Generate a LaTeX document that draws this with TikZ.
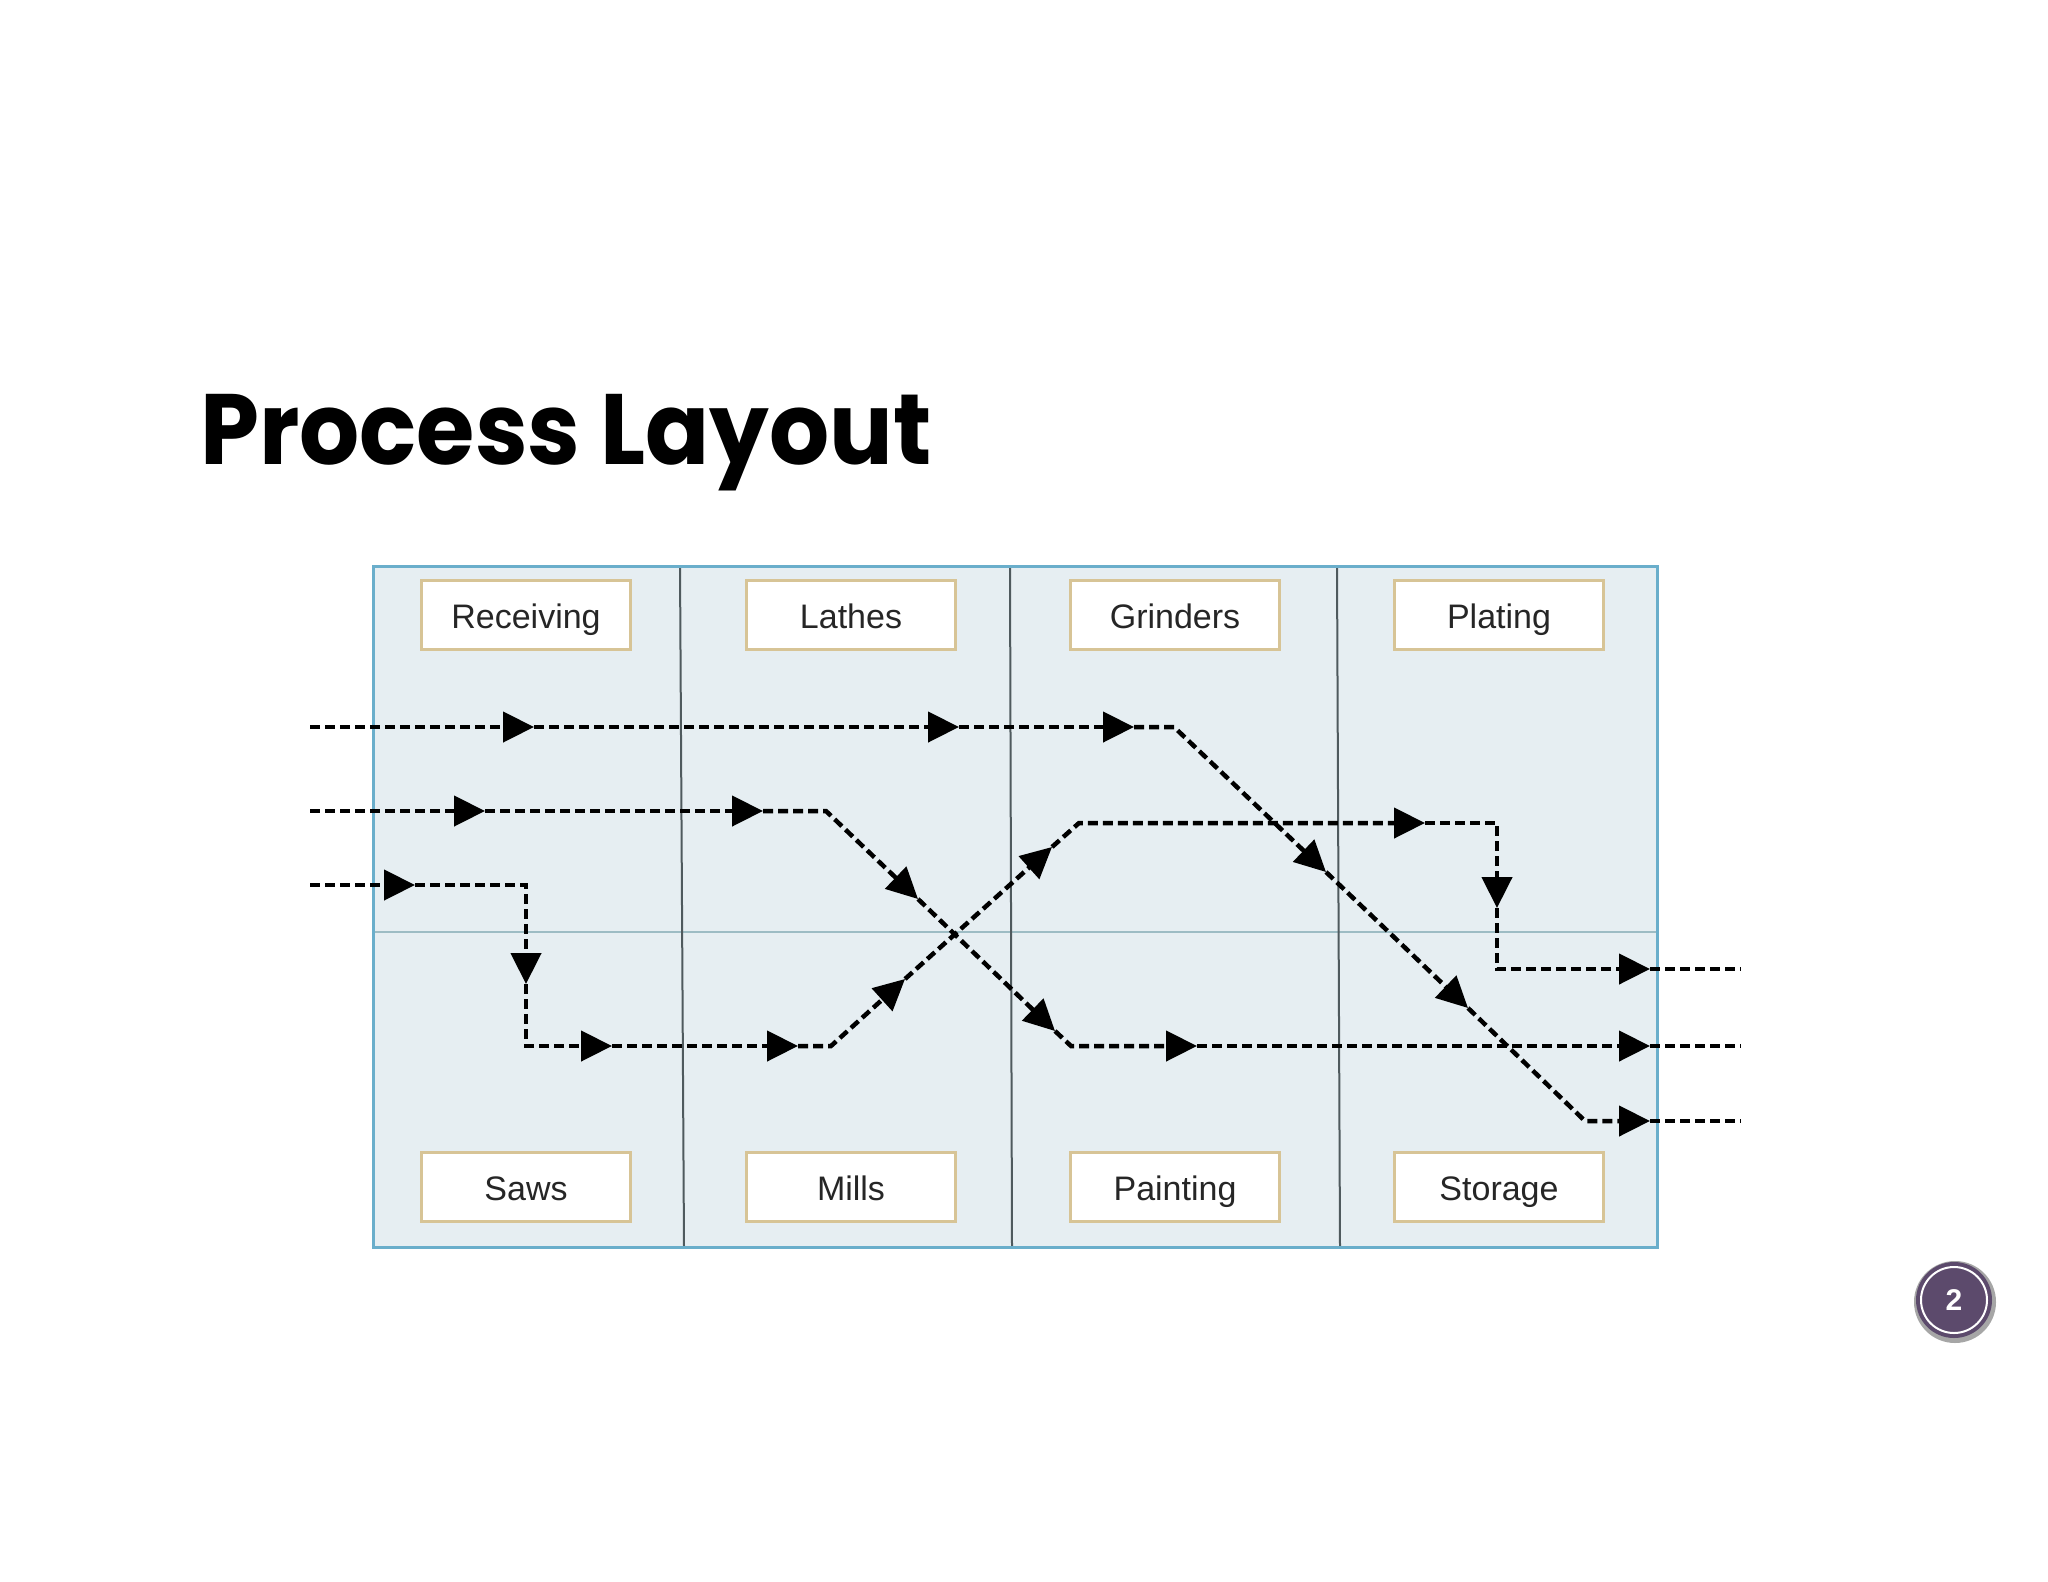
\documentclass[tikz,border=0pt]{standalone}
\usepackage{fontspec}
\setmainfont{Liberation Sans}
\newfontfamily\titlefont{Poppins}
\usetikzlibrary{arrows.meta}
\definecolor{cellfill}{HTML}{E6EEF2}
\definecolor{outerborder}{HTML}{6AAECB}
\definecolor{divider}{HTML}{4F5A5E}
\definecolor{midline}{HTML}{9DBCC4}
\definecolor{labelborder}{HTML}{D7C496}
\definecolor{badge}{HTML}{5C4A6C}
\tikzset{
  labelbox/.style={draw=labelborder, line width=3pt, fill=white, minimum width=209pt,
    minimum height=69pt, inner sep=0pt, text height=29pt, text depth=3pt,
    font=\fontsize{34}{40}\selectfont, text=black!85},
  flow/.style={line width=4.5pt, dash pattern=on 10pt off 5pt, black},
  flowtip/.style={flow, -{Triangle[length=31pt,width=30pt]}}
}
\begin{document}
\begin{tikzpicture}[x=1pt,y=-1pt]
\useasboundingbox (0,0) rectangle (2048,1582);
\fill[white] (0,0) rectangle (2048,1582);

% title
\node[anchor=base west, inner sep=0pt, font=\titlefont\bfseries\fontsize{100}{110}\selectfont] (title) at (200,464) {\scalebox{0.945}[1]{Process Layout}};

% layout grid
\fill[cellfill] (373,566) rectangle (1657,1247);
\draw[midline, line width=2.5pt] (373,932) -- (1657,932);
\draw[divider, line width=2pt] (680,566) -- (684,1247);
\draw[divider, line width=2pt] (1010,566) -- (1012,1247);
\draw[divider, line width=2pt] (1337,566) -- (1340,1247);
\draw[outerborder, line width=3pt] (373,566) rectangle (1657,1247);

% department labels
\node[labelbox] (receiving) at (526,615) {Receiving};
\node[labelbox] (lathes) at (851,615) {Lathes};
\node[labelbox] (grinders) at (1175,615) {Grinders};
\node[labelbox] (plating) at (1499,615) {Plating};
\node[labelbox] (saws) at (526,1187) {Saws};
\node[labelbox] (mills) at (851,1187) {Mills};
\node[labelbox] (painting) at (1175,1187) {Painting};
\node[labelbox] (storage) at (1499,1187) {Storage};

% row 1 route
\coordinate (a0) at (310,727);
\coordinate (a1) at (534,727);
\coordinate (a2) at (959,727);
\coordinate (a3) at (1134,727);
\coordinate (a4) at (1174,727);
\coordinate (a5) at (1326,872);
\coordinate (a6) at (1468,1008);
\coordinate (a7) at (1585,1121);
\coordinate (a8) at (1650,1121);
\coordinate (a9) at (1741,1121);
\draw[flowtip] (a0) -- (a1);
\draw[flowtip] (a1) -- (a2);
\draw[flowtip] (a2) -- (a3);
\draw[flowtip] (a3) -- (a4) -- (a5);
\draw[flowtip] (a5) -- (a6);
\draw[flowtip] (a6) -- (a7) -- (a8);
\draw[flow] (a8) -- (a9);

% row 2 route
\coordinate (b0) at (310,811);
\coordinate (b1) at (485,811);
\coordinate (b2) at (763,811);
\coordinate (b3) at (826,811);
\coordinate (b4) at (918,899);
\coordinate (b5) at (1055,1031);
\coordinate (b6) at (1071,1046);
\coordinate (b7) at (1197,1046);
\coordinate (b8) at (1650,1046);
\coordinate (b9) at (1741,1046);
\draw[flowtip] (b0) -- (b1);
\draw[flowtip] (b1) -- (b2);
\draw[flowtip] (b2) -- (b3) -- (b4);
\draw[flowtip] (b4) -- (b5);
\draw[flowtip] (b5) -- (b6) -- (b7);
\draw[flowtip] (b7) -- (b8);
\draw[flow] (b8) -- (b9);

% row 3 route
\coordinate (c0) at (310,885);
\coordinate (c1) at (415,885);
\coordinate (c2) at (526,885);
\coordinate (c3) at (526,984);
\coordinate (c4) at (526,1046);
\coordinate (c5) at (612,1046);
\coordinate (c6) at (798,1046);
\coordinate (c7) at (831,1046);
\coordinate (c8) at (905,979);
\coordinate (c9) at (1052,847);
\coordinate (c10) at (1079,823);
\coordinate (c11) at (1425,823);
\coordinate (c12) at (1497,823);
\coordinate (c13) at (1497,908);
\coordinate (c14) at (1497,969);
\coordinate (c15) at (1650,969);
\coordinate (c16) at (1741,969);
\draw[flowtip] (c0) -- (c1);
\draw[flowtip] (c1) -- (c2) -- (c3);
\draw[flowtip] (c3) -- (c4) -- (c5);
\draw[flowtip] (c5) -- (c6);
\draw[flowtip] (c6) -- (c7) -- (c8);
\draw[flowtip] (c8) -- (c9);
\draw[flowtip] (c9) -- (c10) -- (c11);
\draw[flowtip] (c11) -- (c12) -- (c13);
\draw[flowtip] (c13) -- (c14) -- (c15);
\draw[flow] (c15) -- (c16);

% page badge
\fill[black!35] (1955,1302) circle (41pt);
\fill[badge] (1954,1300) circle (38pt);
\draw[white, line width=2pt] (1954,1300) circle (33pt);
\node[text=white, font=\bfseries\fontsize{30}{34}\selectfont, inner sep=0pt] (pagenum) at (1954,1300) {2};
\end{tikzpicture}
\end{document}
